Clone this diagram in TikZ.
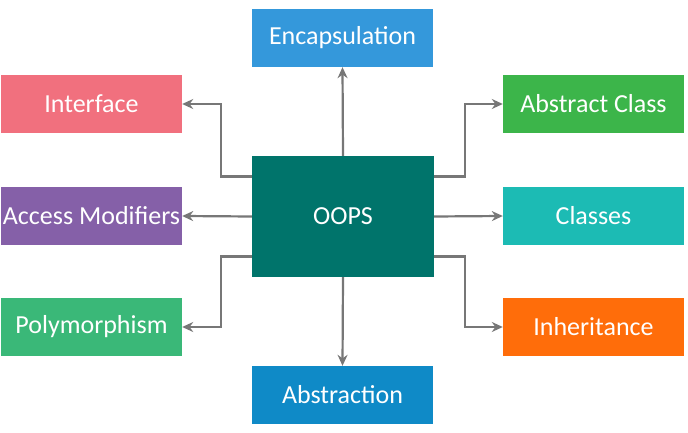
\documentclass[tikz,border=0pt]{standalone}
\usepackage{fontspec}
\setmainfont{Carlito}
\usepackage{xcolor}
\usetikzlibrary{positioning,calc,arrows.meta}

\definecolor{encapC}{HTML}{3498DB}
\definecolor{ifaceC}{HTML}{F1707E}
\definecolor{abclsC}{HTML}{3CB54A}
\definecolor{accessC}{HTML}{8560A8}
\definecolor{classC}{HTML}{1CBBB4}
\definecolor{polyC}{HTML}{3AB878}
\definecolor{inherC}{HTML}{FF6D0A}
\definecolor{abstrC}{HTML}{0F8AC7}
\definecolor{oopsC}{HTML}{00746B}
\definecolor{lineC}{HTML}{777777}

\tikzset{
    box/.style={fill=#1, text=white, minimum width=181pt, minimum height=58pt,
        inner sep=0pt, font=\fontsize{26}{30}\selectfont},
    conn/.style={draw=lineC, line width=2.2pt, -{Stealth[length=11pt,width=10pt]}}
}

\begin{document}
\begin{tikzpicture}[x=1pt,y=-1pt]
    \useasboundingbox (0,0) rectangle (688,433);
    % centre block
    \node[box=oopsC, minimum width=182pt, minimum height=121pt] (oops) at (343,216.5) {OOPS};
    % topics
    \node[box=encapC] (encap) at (342.5,38) {Encapsulation};
    \node[box=abstrC] (abstr) at (342.5,395) {Abstraction};
    \node[box=ifaceC] (iface) at (91.5,104) {Interface};
    \node[box=accessC] (access) at (91.5,216) {Access Modifiers};
    \node[box=polyC] (poly) at (91.5,327) {Polymorphism};
    \node[box=abclsC] (abcls) at (593.5,104) {Abstract Class};
    \node[box=classC] (class) at (593.5,216) {Classes};
    \node[box=inherC] (inher) at (593.5,327) {Inheritance};
    % connectors
    \draw[conn] (oops.north) -- (encap.south);
    \draw[conn] (oops.south) -- (abstr.north);
    \draw[conn] (oops.west) -- (access.east);
    \draw[conn] (oops.east) -- (class.west);
    \draw[conn] ([yshift=40pt]oops.west) -- ++(-31pt,0) |- (iface.east);
    \draw[conn] ([yshift=-40pt]oops.west) -- ++(-31pt,0) |- (poly.east);
    \draw[conn] ([yshift=40pt]oops.east) -- ++(31pt,0) |- (abcls.west);
    \draw[conn] ([yshift=-40pt]oops.east) -- ++(31pt,0) |- (inher.west);
\end{tikzpicture}
\end{document}
